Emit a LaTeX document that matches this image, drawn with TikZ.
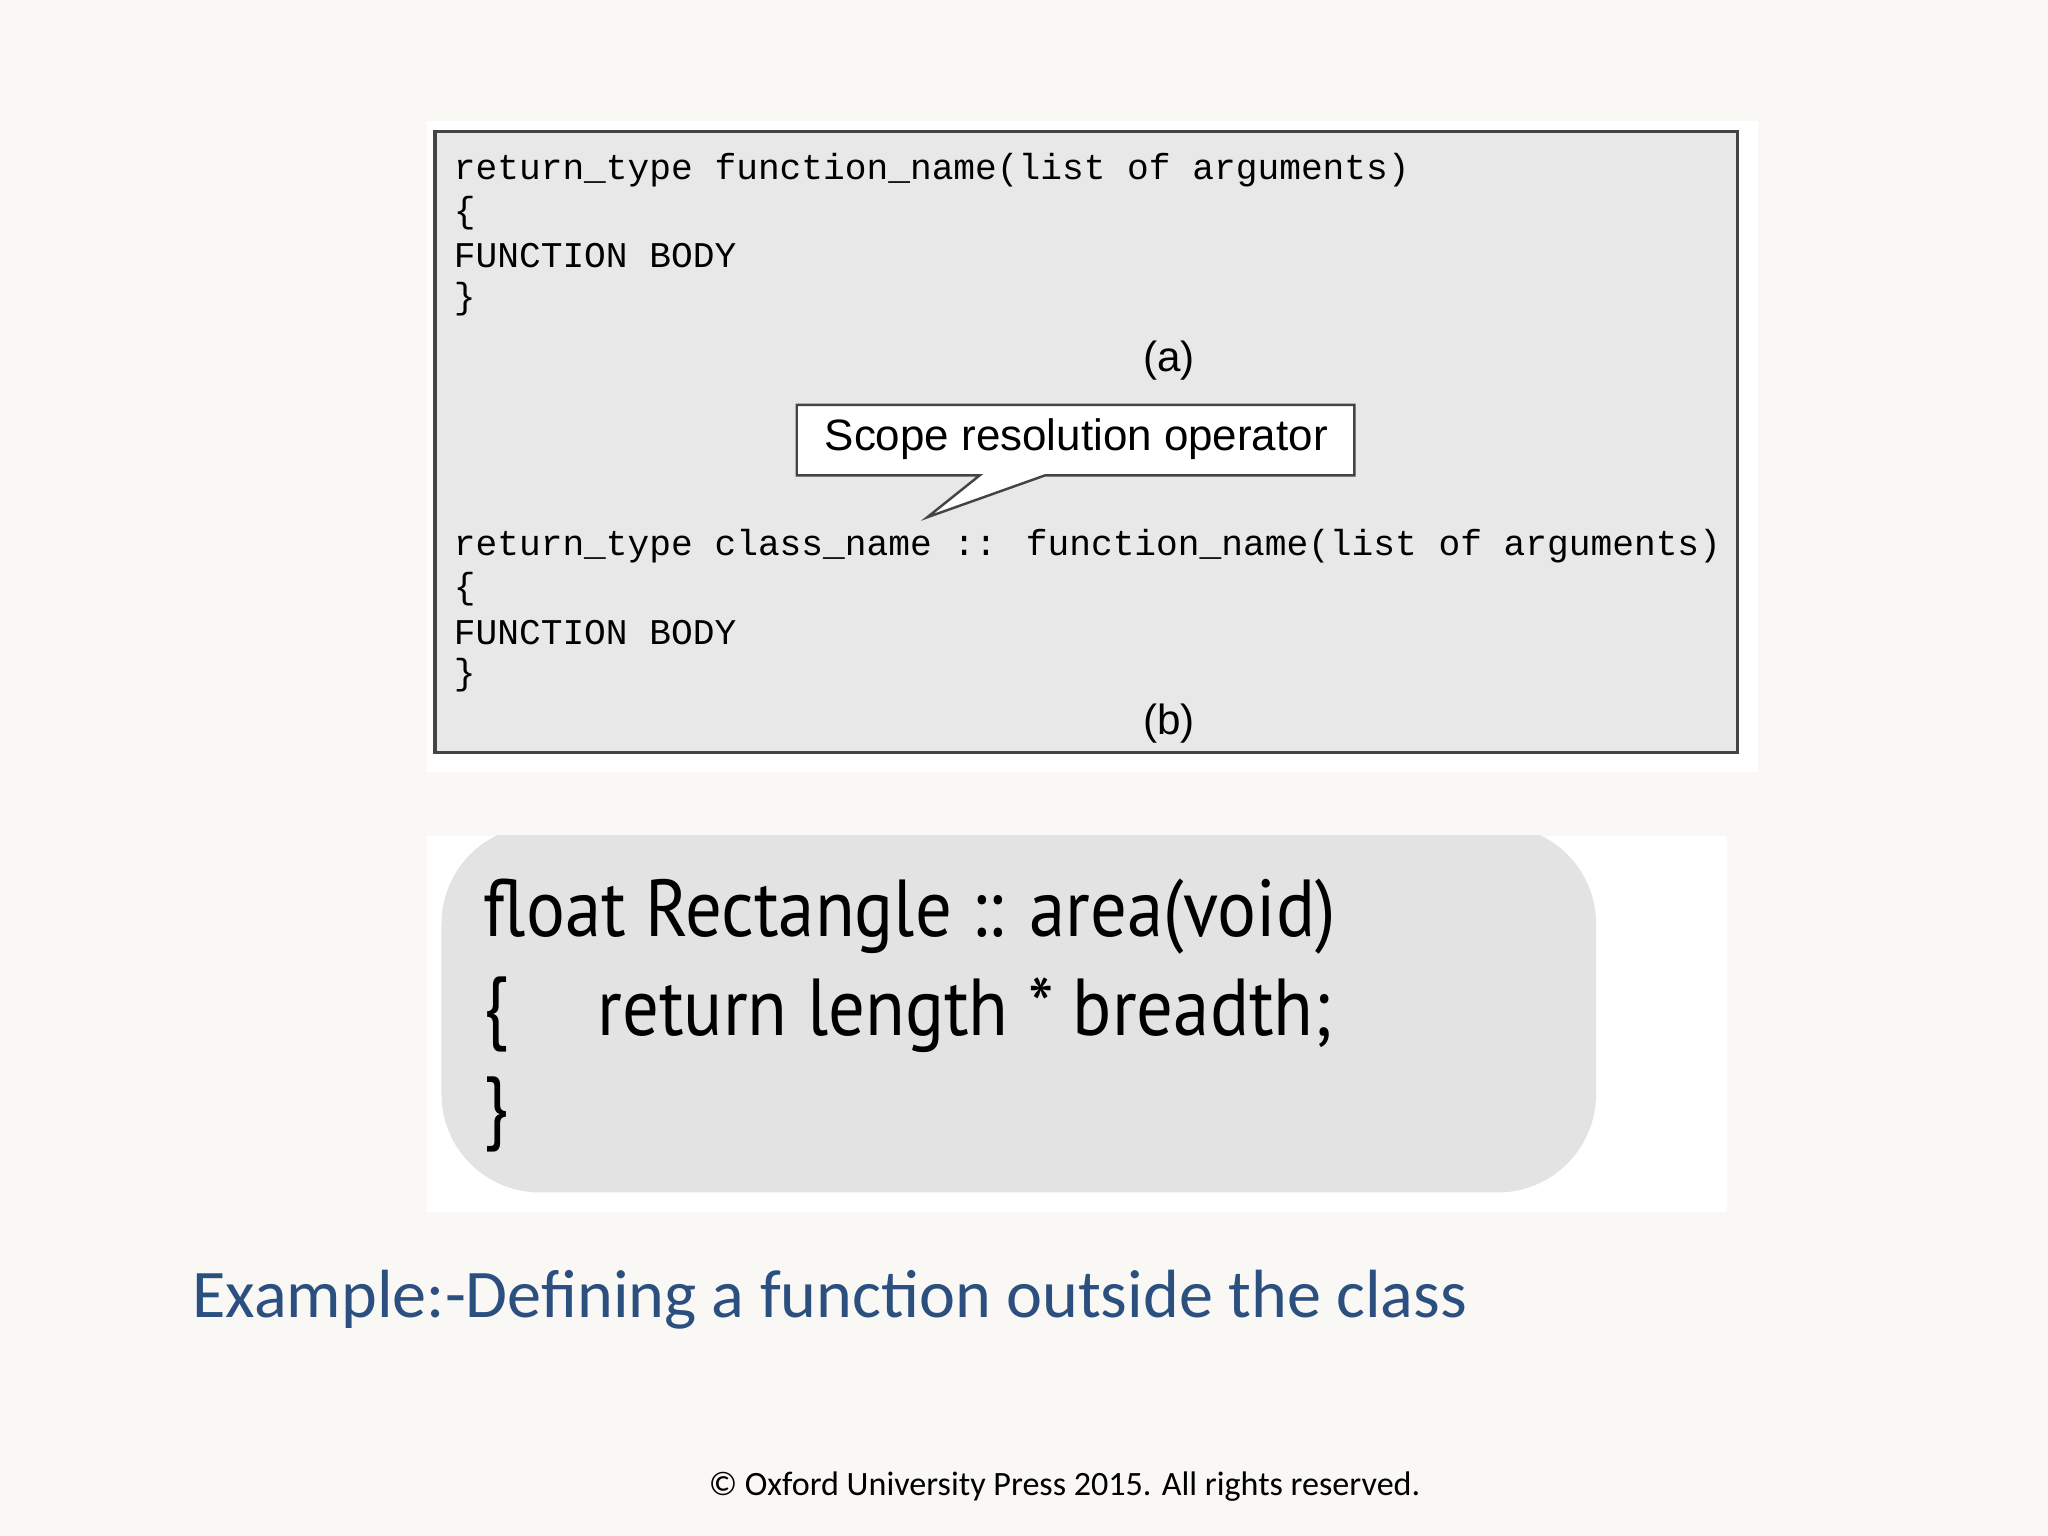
\documentclass[tikz,border=0pt]{standalone}
\usepackage{fontspec}
\setmainfont{Carlito}
\newfontfamily\codefont{Liberation Mono}
\newfontfamily\labfont{Liberation Sans}
\newfontfamily\exfont{PT Sans}
\definecolor{bgc}{HTML}{F9F8F5}
\definecolor{boxg}{HTML}{E8E8E8}
\definecolor{boxg2}{HTML}{E3E3E3}
\definecolor{titleblue}{HTML}{2B4F7E}
\definecolor{edgec}{HTML}{444444}
\tikzset{
  code/.style={anchor=west,inner sep=0pt,font=\codefont\fontsize{10.3}{12}\selectfont},
  lab/.style={inner sep=0pt,font=\labfont\fontsize{12}{14}\selectfont},
  ex/.style={anchor=west,inner sep=0pt,font=\exfont\fontsize{23}{26}\selectfont,xscale=0.9}
}
\begin{document}
\begin{tikzpicture}[x=0.013061cm,y=-0.013061cm]
\fill[bgc] (0,0) rectangle (1568,1176);
\useasboundingbox (0,0) rectangle (1568,1176);
\fill[white] (327,93) rectangle (1346,591);
\draw[edgec,fill=boxg,line width=0.9pt] (333,101) rectangle (1330,576);
\node[code] (a1) at (347,130) {return\_type function\_name(list of arguments)};
\node[code] (a2) at (347,163) {\{};
\node[code] (a3) at (347,196) {FUNCTION BODY};
\node[code] (a4) at (347,229) {\}};
\node[lab] (la) at (895,276) {(a)};
\draw[edgec,fill=white,line width=0.7pt] (610,310) -- (1037,310) -- (1037,364) -- (800,364) -- (710,396) -- (750,364) -- (610,364) -- cycle;
\node[lab,font=\labfont\fontsize{12.5}{14}\selectfont] (sro) at (824,336) {Scope resolution operator};
\node[code] (b1) at (347,418) {return\_type class\_name :: function\_name(list of arguments)};
\node[code] (b2) at (347,451) {\{};
\node[code] (b3) at (347,484) {FUNCTION BODY};
\node[code] (b4) at (347,517) {\}};
\node[lab] (lb) at (895,554) {(b)};
\fill[white] (327,640) rectangle (1322,928);
\begin{scope}
\clip (327,640) rectangle (1322,928);
\fill[boxg2,rounded corners=28] (338,632) rectangle (1222,913);
\end{scope}
\node[ex] (e1) at (370,702) {float Rectangle :: area(void)};
\node[ex] (e2) at (370,777) {\{};
\node[ex] (e2b) at (457,777) {return length * breadth;};
\node[ex] (e3) at (370,853) {\}};
\node[anchor=west,inner sep=0pt,text=titleblue,font=\fontsize{19.4}{22}\selectfont] (title) at (147,995) {Example:-Defining a function outside the class};
\node[inner sep=0pt,font=\fontsize{9.7}{11}\selectfont] (copy) at (815,1138) {© Oxford University Press 2015. All rights reserved.};
\end{tikzpicture}
\end{document}
